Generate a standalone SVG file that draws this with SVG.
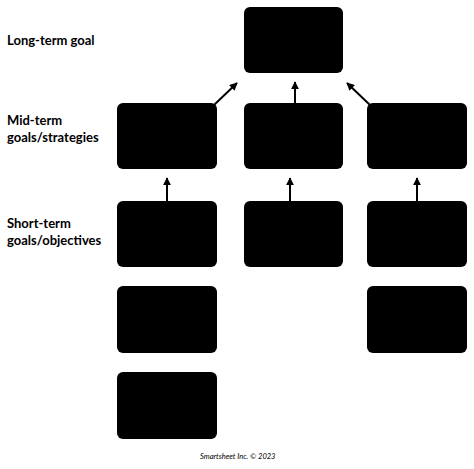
<svg xmlns="http://www.w3.org/2000/svg" width="474" height="469" viewBox="0 0 474 469">
<defs>
<style>
.box{fill:#000}
.lbl{font-family:Lato,"Liberation Sans",sans-serif;font-weight:bold;font-size:13px;fill:#000}
.conn{stroke:#000;stroke-width:2;fill:none}
.foot{font-family:Lato,"Liberation Sans",sans-serif;font-style:italic;font-size:7.5px;fill:#000}
</style>
<marker id="ah" viewBox="0 0 10 10" refX="9" refY="5" markerWidth="4" markerHeight="4" orient="auto" markerUnits="strokeWidth">
<path d="M0,0 L10,5 L0,10 z" fill="#000"/>
</marker>
</defs>
<rect width="474" height="469" fill="#fff"/>
<g id="labels">
<text class="lbl" x="7" y="45">Long-term goal</text>
<text class="lbl" x="7" y="125">Mid-term</text>
<text class="lbl" x="7" y="142">goals/strategies</text>
<text class="lbl" x="7" y="228">Short-term</text>
<text class="lbl" x="7" y="245">goals/objectives</text>
</g>
<g id="connectors">
<line class="conn" x1="214" y1="105" x2="237" y2="83" marker-end="url(#ah)"/>
<line class="conn" x1="295" y1="103" x2="295" y2="82" marker-end="url(#ah)"/>
<line class="conn" x1="370" y1="105" x2="347" y2="83" marker-end="url(#ah)"/>
<line class="conn" x1="167" y1="201" x2="167" y2="178" marker-end="url(#ah)"/>
<line class="conn" x1="290" y1="201" x2="290" y2="178" marker-end="url(#ah)"/>
<line class="conn" x1="417" y1="201" x2="417" y2="178" marker-end="url(#ah)"/>
</g>
<g id="long-term"><rect class="box" x="244" y="7" width="99" height="66" rx="6"/></g>
<g id="mid-1"><rect class="box" x="117" y="103" width="100" height="66" rx="6"/></g>
<g id="mid-2"><rect class="box" x="244" y="103" width="99" height="66" rx="6"/></g>
<g id="mid-3"><rect class="box" x="367" y="103" width="100" height="66" rx="6"/></g>
<g id="short-1"><rect class="box" x="117" y="201" width="100" height="66" rx="6"/></g>
<g id="short-2"><rect class="box" x="244" y="201" width="99" height="66" rx="6"/></g>
<g id="short-3"><rect class="box" x="367" y="201" width="100" height="66" rx="6"/></g>
<g id="short-4"><rect class="box" x="117" y="286" width="100" height="67" rx="6"/></g>
<g id="short-5"><rect class="box" x="367" y="286" width="100" height="67" rx="6"/></g>
<g id="short-6"><rect class="box" x="117" y="372" width="100" height="67" rx="6"/></g>
<text class="foot" x="200" y="459">Smartsheet Inc. © 2023</text>
</svg>
